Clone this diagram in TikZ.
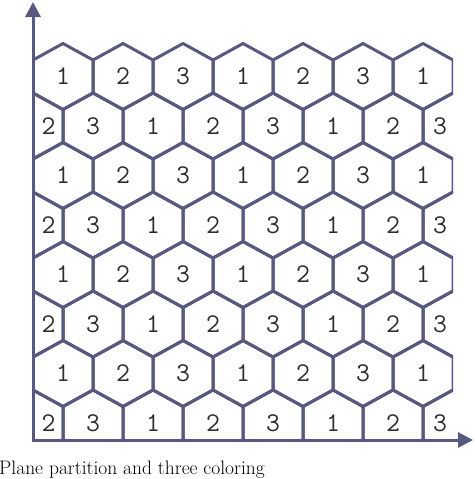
\documentclass[tikz,border=0pt]{standalone}
\usepackage{tikz}
\usetikzlibrary{arrows.meta}
\definecolor{gridline}{RGB}{88,88,128}
\definecolor{numtext}{RGB}{45,45,45}

\begin{document}
\begin{tikzpicture}[%
    x=1pt, y=-1pt,
    cell/.style={%
        draw=gridline,
        line width=3pt,
        line join=round,
    },
    num/.style={%
        font=\fontsize{27}{29}\selectfont\ttfamily,
        text=numtext,
        inner sep=0pt,
    },
    axis/.style={%
        draw=gridline,
        line width=3pt,
        -{Triangle[length=15pt,width=15pt]},
    }
]
\useasboundingbox (0,0) rectangle (474,479);
\pgfmathsetmacro\rowsep{49.5};
    % hexagon cells, cut off at the axes
    \begin{scope}
        \clip (33,0) rectangle (453,440);
        \foreach \row in {0,...,7}{%
            \pgfmathsetmacro\cy{76.5+\rowsep*\row};
            \ifodd\row
                \def\xo{33}\def\last{7}
            \else
                \def\xo{63}\def\last{6}
            \fi
            \foreach \k in {0,...,\last}{%
                \pgfmathsetmacro\cx{\xo+60*\k};
                \draw[cell] (\cx,\cy-33) -- ++(30,16.5) -- ++(0,33)
                    -- ++(-30,16.5) -- ++(-30,-16.5) -- ++(0,-33) -- cycle;
            }
        }
    \end{scope}
    % colours 1, 2, 3
    \foreach \row in {0,...,7}{%
        \pgfmathsetmacro\cy{76.5+\rowsep*\row};
        \ifodd\row
            \def\xo{33}\def\last{7}\def\sh{1}
        \else
            \def\xo{63}\def\last{6}\def\sh{0}
        \fi
        \foreach \k in {0,...,\last}{%
            \pgfmathsetmacro\cx{\xo+60*\k};
            \pgfmathtruncatemacro\lab{mod(\k+\sh,3)+1};
            \ifnum \sh=1
                \ifnum \k=0 \def\cx{48.5}\fi
                \ifnum \k=7 \def\cx{440}\fi
            \fi
            \node[num] (n\row-\k) at (\cx,\cy) {\lab};
        }
    }

    \coordinate (O) at (33,440);
    \coordinate (ytip) at (33,2);
    \coordinate (xtip) at (473,440);
    \draw[axis] (O) -- (ytip);
    \draw[axis] ([xshift=-1.5pt]O) -- (xtip);

    \node[anchor=south west, inner sep=0pt, font=\fontsize{19.5}{22}\selectfont]
        (caption) at (-1,478.5) {Plane partition and three coloring};
\end{tikzpicture}
\end{document}
